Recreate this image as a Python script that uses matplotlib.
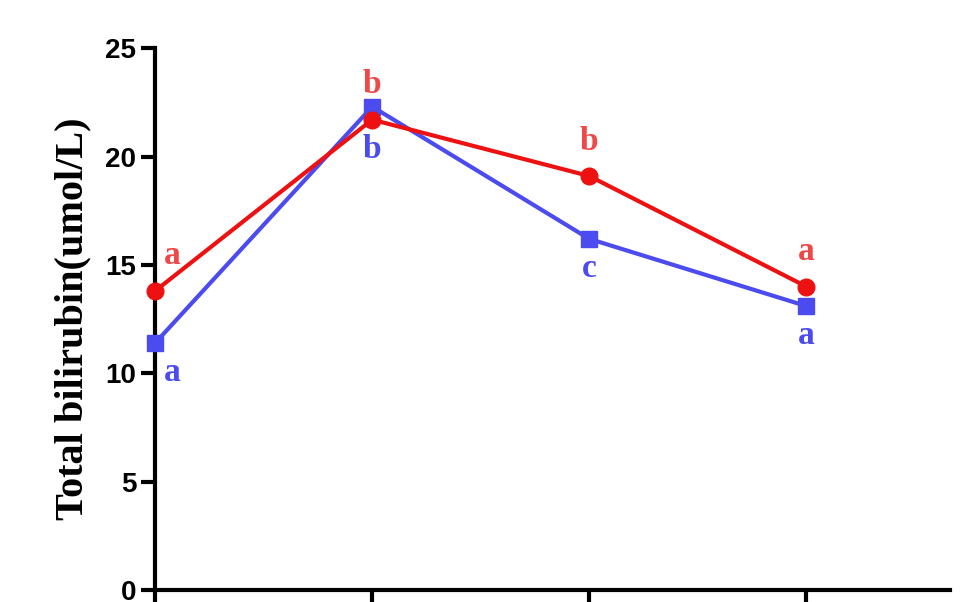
import matplotlib.pyplot as plt

x_pos = [0, 1, 2, 3]
red_values = [13.8, 21.7, 19.1, 14.0]
blue_values = [11.4, 22.3, 16.2, 13.1]
red_letters = ["a", "b", "b", "a"]
blue_letters = ["a", "b", "c", "a"]

RED = "#ee1111"
BLUE = "#4b4bf0"

fig = plt.figure(figsize=(9.64, 6.02), dpi=100)
ax = fig.add_axes([0.161, 0.02, 0.824, 0.90])

ax.plot(x_pos, blue_values, color=BLUE, linewidth=3, marker="s", markersize=12,
        zorder=3, clip_on=False)
ax.plot(x_pos, red_values, color=RED, linewidth=3, marker="o", markersize=12,
        zorder=4, clip_on=False)

letter_font = dict(family="Liberation Serif", fontweight="bold", fontsize=24, ha="center")
for i, (x, y, t) in enumerate(zip(x_pos, red_values, red_letters)):
    dx = 12 if i == 0 else 0
    ax.annotate(t, (x, y), xytext=(dx, 14), textcoords="offset points", va="bottom",
                color="#f04848", **letter_font)
blue_dy = [-10, -20, -10, -10]
for i, (x, y, t) in enumerate(zip(x_pos, blue_values, blue_letters)):
    dx = 12 if i == 0 else 0
    ax.annotate(t, (x, y), xytext=(dx, blue_dy[i]), textcoords="offset points", va="top",
                color=BLUE, **letter_font)

ax.set_xlim(0, 3.66)
ax.set_ylim(0, 25)
ax.set_yticks([0, 5, 10, 15, 20, 25])
ax.set_xticks(x_pos)
ax.set_xticklabels([])
for s in ["top", "right"]:
    ax.spines[s].set_visible(False)
for s in ["left", "bottom"]:
    ax.spines[s].set_linewidth(3)
ax.tick_params(width=3, length=10, labelsize=20)
for lab in ax.get_yticklabels():
    lab.set_fontweight("bold")
    lab.set_family("Liberation Sans")
ax.set_ylabel("Total bilirubin(umol/L)", family="Liberation Serif", fontweight="bold",
              fontsize=29, labelpad=10)

fig.savefig("out.png")
